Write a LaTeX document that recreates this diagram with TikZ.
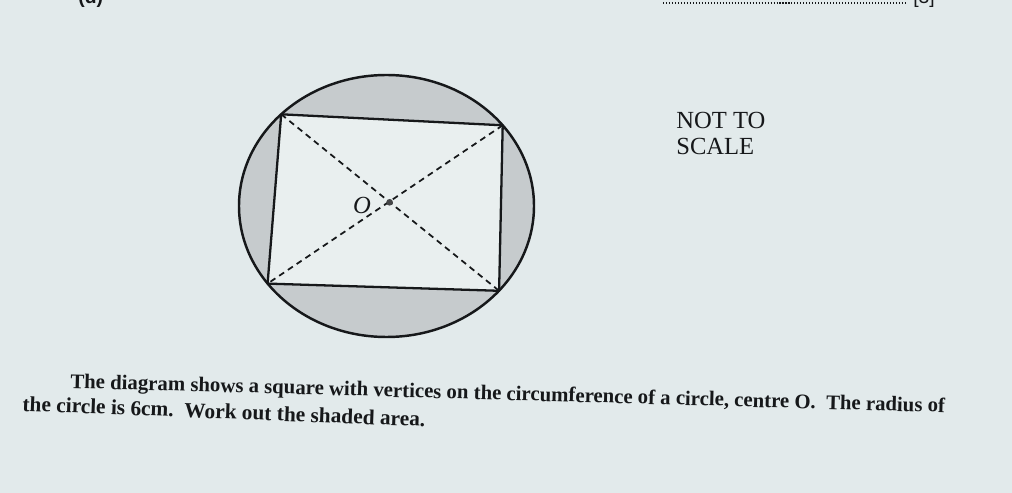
\documentclass[tikz,border=0pt]{standalone}
\usepackage{fontspec}
\setmainfont{Liberation Serif}
\newfontfamily\arialfont{Liberation Sans}
\usetikzlibrary{calc}
\definecolor{paper}{RGB}{226,234,235}
\definecolor{innerpaper}{RGB}{233,239,239}
\definecolor{shadegray}{RGB}{198,203,205}
\definecolor{ink}{RGB}{22,24,26}
\tikzset{
  outline/.style={draw=ink, line width=1.4pt},
  edge/.style={draw=ink, line width=1.3pt, line join=round},
  diag/.style={draw=ink, line width=1pt, dash pattern=on 3.4pt off 2.6pt},
  bodytext/.style={anchor=base west, inner sep=0pt, text=ink, font=\bfseries},
  note/.style={anchor=base west, inner sep=0pt, text=ink, align=left, font=\fontsize{14}{15.3}\selectfont},
  centredot/.style={circle, fill=ink!80, inner sep=0pt, minimum size=3.8pt},
}
\begin{document}
\begin{tikzpicture}[x=0.02cm, y=-0.02cm]
\useasboundingbox (0,0) rectangle (1012,493);
\clip (0,0) rectangle (1012,493);
\fill[paper] (0,0) rectangle (1012,493);

% cut-off header
\node[anchor=base west, inner sep=0pt, text=ink, font=\arialfont\bfseries\fontsize{11}{12}\selectfont] (part) at (78,4) {(d)};
\coordinate (dotsA) at (663,3);
\coordinate (dotsB) at (905,3);
\draw[ink, line width=1pt, dash pattern=on 0.6pt off 1.1pt] (dotsA) -- (dotsB);
\node[anchor=base west, inner sep=0pt, text=ink, font=\arialfont\fontsize{11}{12}\selectfont] (marks) at (913,4) {[3]};

% circle (photographed, slightly elliptical)
\coordinate (C) at (386.5,206);
\fill[shadegray] (C) ellipse [x radius=147.5, y radius=131];

% vertices on the circumference
\coordinate (TL) at (281.2,114.3);
\coordinate (TR) at (502.7,125.3);
\coordinate (BR) at (499.1,290.8);
\coordinate (BL) at (267.6,283.6);

\fill[innerpaper] (TL) -- (TR) -- (BR) -- (BL) -- cycle;
\draw[diag] (TL) -- (BR);
\draw[diag] (TR) -- (BL);
\draw[edge] (TL) -- (TR) -- (BR) -- (BL) -- cycle;
\draw[outline] (C) ellipse [x radius=147.5, y radius=131];

\node[centredot] (O) at (389.6,202.3) {};
\node[text=ink, inner sep=0pt, font=\itshape\fontsize{14}{15}\selectfont] (Olabel) at (362,205) {O};

% note
\node[note] (nts) at (676,155) {NOT TO\\SCALE};

% question text
\node[bodytext, rotate=-1.6] (line1) at (70,388) {\resizebox{17.5cm}{!}{The diagram shows a square with vertices on the circumference of a circle, centre O.\ \ The radius of}};
\node[bodytext, rotate=-2.2] (line2) at (22,411) {\resizebox{8.06cm}{!}{the circle is 6cm.\ \ Work out the shaded area.}};
\end{tikzpicture}
\end{document}
